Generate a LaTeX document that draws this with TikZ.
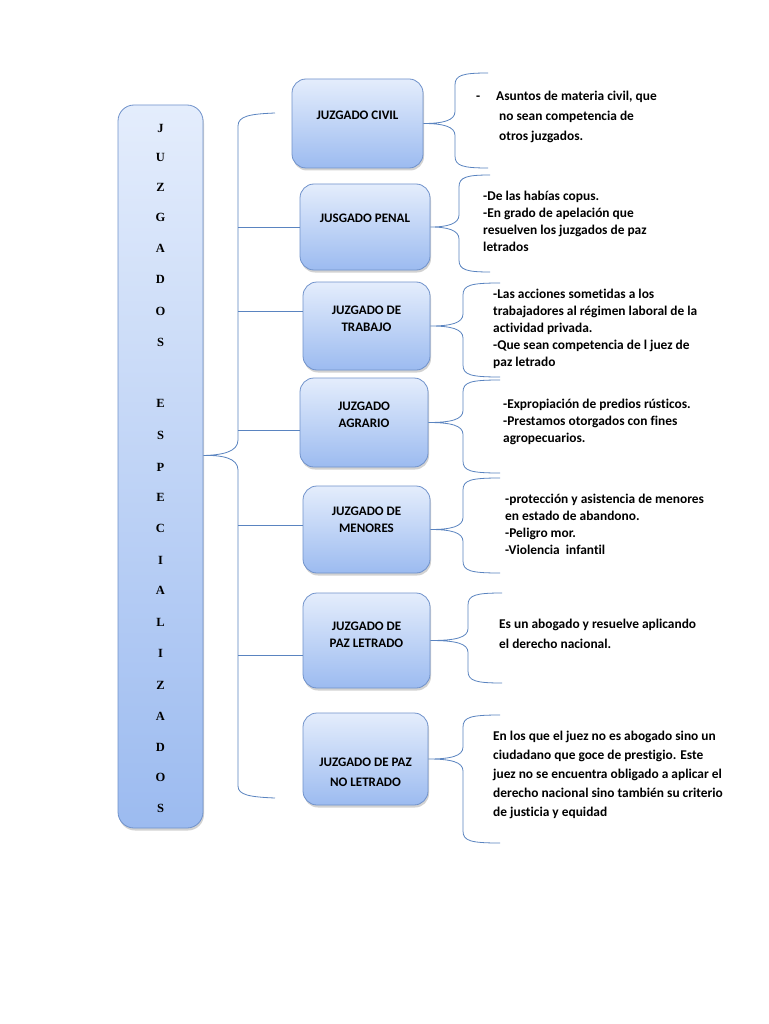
\documentclass[tikz,border=0pt]{standalone}
\usepackage{fontspec}
\setmainfont{Carlito}[Ligatures=NoCommon]
\newfontfamily\letterfont{Liberation Serif}
\usetikzlibrary{shadows}
\definecolor{boxtop}{HTML}{E4EDFC}
\definecolor{boxbot}{HTML}{9CBBF0}
\definecolor{boxline}{HTML}{7092CB}
\definecolor{bracec}{HTML}{5A84C0}
\newcommand\sidebrace[6]{% #1 tip, #2 xv, #3 yt, #4 ym, #5 yb, #6 xe
  \draw[bracel] (#6,#3) .. controls ({#2+8},#3) and (#2,{#3+2}) .. (#2,{#3+12})
    -- (#2,{#4-12}) .. controls (#2,{#4-3}) and ({#2-12},#4) .. (#1)
    .. controls ({#2-12},#4) and (#2,{#4+3}) .. (#2,{#4+12})
    -- (#2,{#5-12}) .. controls (#2,{#5-2}) and ({#2+8},#5) .. (#6,#5);}
\begin{document}
\begin{tikzpicture}[x=1pt,y=-1pt,
  court/.style={draw=boxline, line width=0.8pt, rounded corners=14pt,
    top color=boxtop, bottom color=boxbot, inner sep=0pt,
    drop shadow={opacity=0.35, shadow xshift=1pt, shadow yshift=-2.5pt}},
  boxtext/.style={font=\bfseries\fontsize{13}{17}\selectfont, align=center, inner sep=0pt},
  desc/.style={font=\bfseries\fontsize{13.4}{17}\selectfont, align=left, anchor=north west, inner sep=0pt},
  letter/.style={font=\letterfont\bfseries\fontsize{12.5}{13}\selectfont, inner sep=0pt},
  bracel/.style={draw=bracec, line width=0.8pt}]
\useasboundingbox (0,0) rectangle (768,1024);
\fill[white] (0,0) rectangle (768,1024);

% main vertical box
\node[court, rounded corners=16pt, minimum width=85pt, minimum height=723pt] (main) at (160.5,466.5) {};
\foreach \ch/\yy [count=\i] in {J/128,U/157,Z/187,G/217,A/248,D/279,O/311,S/342,
   E/403,S/435,P/467,E/497,C/528,I/560,A/590,L/622,I/653,Z/685,A/716,D/747,O/777,S/808}
  \node[letter] (l\i) at (160.5,\yy) {\ch};

% court boxes
\node[court, minimum width=131pt, minimum height=89pt] (b1) at (357.5,123.5) {};
\node[court, minimum width=130pt, minimum height=86pt] (b2) at (365,227) {};
\node[court, minimum width=127pt, minimum height=88pt] (b3) at (366.5,326) {};
\node[court, minimum width=128pt, minimum height=89pt] (b4) at (364,422.5) {};
\node[court, minimum width=127pt, minimum height=87pt] (b5) at (366.5,529.5) {};
\node[court, minimum width=127pt, minimum height=95pt] (b6) at (366.5,640.5) {};
\node[court, minimum width=125pt, minimum height=92pt] (b7) at (365.5,759) {};

\node[boxtext] (t1) at (357.5,115) {JUZGADO CIVIL};
\node[boxtext] (t2) at (365,218) {JUSGADO PENAL};
\node[boxtext] (t3) at (366.5,318.5) {JUZGADO DE\\TRABAJO};
\node[boxtext] (t4) at (364,415) {JUZGADO\\AGRARIO};
\node[boxtext] (t5) at (366.5,519.5) {JUZGADO DE\\MENORES};
\node[boxtext] (t6) at (366.5,634.5) {JUZGADO DE\\PAZ LETRADO};
\node[boxtext] (t7) at (365.5,772) {JUZGADO DE PAZ\\[3pt]NO LETRADO};

% main brace
\coordinate (maintip) at ([yshift=11pt]main.east);
\coordinate (mtop) at (275,113);
\coordinate (mbot) at (275,798);
\draw[bracel] (mtop) .. controls (250,114) and (238,116) .. (238,126)
  -- (238,440) .. controls (238,452) and (222,455) .. (maintip)
  .. controls (222,455) and (238,458) .. (238,470)
  -- (238,786) .. controls (238,795) and (250,797) .. (mbot);
\draw[bracel] (238,227) -- (b2.west |- 0,227);
\draw[bracel] (238,311) -- (b3.west |- 0,311);
\draw[bracel] (238,430) -- (b4.west |- 0,430);
\draw[bracel] (238,525) -- (b5.west |- 0,525);
\draw[bracel] (238,655) -- (b6.west |- 0,655);

% side braces
\sidebrace{b1.east}{455}{73}{123.5}{168}{488}
\sidebrace{b2.east}{459}{175}{227}{272}{490}
\sidebrace{b3.east}{463}{283}{326}{377}{500}
\sidebrace{b4.east}{463}{380}{422.5}{473}{500}
\sidebrace{b5.east}{463}{478}{529.5}{573}{500}
\sidebrace{b6.east}{468}{593}{640.5}{683}{502}
\sidebrace{b7.east}{463}{715}{759}{843}{500}

% descriptions
\node[desc] (dash1) at (476,91) {\vphantom{Ad}-};
\node[desc] (d1) at (496,91) {Asuntos de materia civil, que\\[3pt]\hspace*{3pt}no sean competencia de\\[3pt]\hspace*{3pt}otros juzgados.};
\node[desc] (d2) at (483,191) {-De las habías copus.\\-En grado de apelación que\\resuelven los juzgados de paz\\letrados};
\node[desc] (d3) at (493,289) {-Las acciones sometidas a los\\trabajadores al régimen laboral de la\\actividad privada.\\-Que sean competencia de l juez de\\paz letrado};
\node[desc] (d4) at (503,399) {-Expropiación de predios rústicos.\\-Prestamos otorgados con fines\\agropecuarios.};
\node[desc] (d5) at (505,494) {-protección y asistencia de menores\\en estado de abandono.\\-Peligro mor.\\-Violencia\ \ infantil};
\node[desc] (d6) at (499,619) {Es un abogado y resuelve aplicando\\[3pt]el derecho nacional.};
\node[desc] (d7) at (493,731) {En los que el juez no es abogado sino un\\[2pt]ciudadano que goce de prestigio. Este\\[2pt]juez no se encuentra obligado a aplicar el\\[2pt]derecho nacional sino también su criterio\\[2pt]de justicia y equidad};
\end{tikzpicture}
\end{document}
